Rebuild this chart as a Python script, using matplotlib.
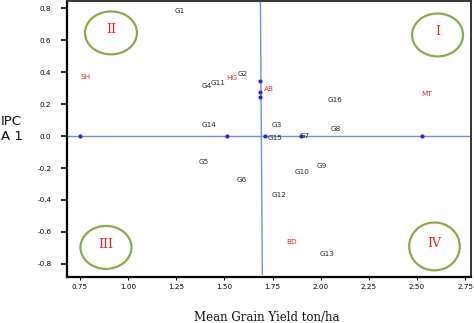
import matplotlib
matplotlib.use("Agg")
import matplotlib.pyplot as plt
from matplotlib.patches import Ellipse

# Genotype labels (mean yield, IPCA1)
genotypes = ["G1", "G2", "G3", "G4", "G5", "G6", "G7", "G8", "G9", "G10",
             "G11", "G12", "G13", "G14", "G15", "G16"]
geno_x = [1.269, 1.595, 1.772, 1.409, 1.393, 1.590, 1.917, 2.078, 2.005, 1.901,
          1.466, 1.782, 2.031, 1.419, 1.761, 2.073]
geno_y = [0.784, 0.390, 0.072, 0.316, -0.159, -0.272, 0.003, 0.047, -0.190, -0.222,
          0.334, -0.366, -0.740, 0.072, -0.009, 0.228]

# Environment labels
environments = ["SH", "HG", "AB", "MT", "BD"]
env_x = [0.781, 1.538, 1.730, 2.550, 1.850]
env_y = [0.372, 0.366, 0.297, 0.266, -0.665]

# Blue points
pt_x = [0.75, 1.511, 1.710, 1.900, 2.525, 1.684, 1.684, 1.684]
pt_y = [0.0, 0.0, 0.0, 0.0, 0.0, 0.347, 0.278, 0.247]

# Reference lines
grand_mean_x = [1.687, 1.697]
grand_mean_y = [0.85, -0.866]

# Quadrant markers
quad_labels = ["I", "II", "III", "IV"]
quad_x = [2.607, 0.911, 0.885, 2.591]
quad_y = [0.634, 0.647, -0.697, -0.691]
quad_w = [0.265, 0.270, 0.265, 0.263]
quad_h = [0.269, 0.269, 0.269, 0.300]

x_ticks = [0.75, 1.00, 1.25, 1.50, 1.75, 2.00, 2.25, 2.50, 2.75]
y_ticks = [-0.8, -0.6, -0.4, -0.2, 0.0, 0.2, 0.4, 0.6, 0.8]

fig = plt.figure(figsize=(4.74, 3.23), dpi=100)
ax = fig.add_axes([0.1407, 0.1424, 0.8523, 0.8546])
ax.set_xlim(0.681, 2.779)
ax.set_ylim(-0.8825, 0.847)

line_color = "#6f93cc"
ax.axhline(0, color=line_color, lw=1.0, zorder=1)
ax.plot(grand_mean_x, grand_mean_y, color=line_color, lw=1.0, zorder=1)

ax.scatter(pt_x, pt_y, s=9, color="#1f2be0", zorder=3, linewidths=0)

for name, x, y in zip(genotypes, geno_x, geno_y):
    ax.text(x, y, name, fontsize=5.2, color="#222222", ha="center", va="center", zorder=4)
for name, x, y in zip(environments, env_x, env_y):
    ax.text(x, y, name, fontsize=5.2, color="#e8262a", ha="center", va="center", zorder=4)

for lab, x, y, w, h in zip(quad_labels, quad_x, quad_y, quad_w, quad_h):
    ax.add_patch(Ellipse((x, y), w, h, fill=False, edgecolor="#8aaa4a", lw=1.6, zorder=2))
    ax.text(x, y + 0.02, lab, fontsize=9, color="#e8262a", family="DejaVu Serif",
            ha="center", va="center", zorder=4)

ax.set_xticks(x_ticks)
ax.set_xticklabels([f"{v:.2f}" for v in x_ticks], fontsize=5.2)
ax.set_yticks(y_ticks)
ax.set_yticklabels([f"{v:.1f}" for v in y_ticks], fontsize=5.2)
ax.tick_params(axis="y", length=4, width=1.2, pad=7)
ax.tick_params(axis="x", length=2, width=0.8, pad=3)

for side in ["left", "bottom"]:
    ax.spines[side].set_linewidth(1.6)
    ax.spines[side].set_color("black")
for side in ["top", "right"]:
    ax.spines[side].set_linewidth(1.4)
    ax.spines[side].set_color("#333333")

fig.text(0.002, 1 - 122 / 323, "IPC", fontsize=9.5, ha="left", va="center", color="#111111")
fig.text(0.002, 1 - 137 / 323, "A 1", fontsize=9.5, ha="left", va="center", color="#111111")
fig.text(267 / 474, 1 - 317 / 323, "Mean Grain Yield ton/ha", fontsize=8.5,
         family="DejaVu Serif", ha="center", va="center", color="#111111")

fig.savefig("out.png", dpi=100)
